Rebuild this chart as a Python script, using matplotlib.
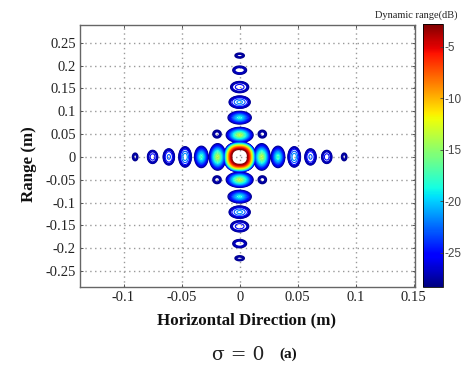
import matplotlib
matplotlib.use("Agg")
import matplotlib.pyplot as plt
import numpy as np

# lobes: centre x, centre y, half width, half height, peak dB
h_lobe_x = [-0.090, -0.075, -0.061, -0.047, -0.033, -0.019, 0.019, 0.033, 0.047, 0.061, 0.075, 0.090]
h_lobe_wx = [0.0024, 0.0043, 0.0047, 0.0052, 0.0060, 0.0073, 0.0073, 0.0060, 0.0052, 0.0047, 0.0043, 0.0024]
h_lobe_wy = [0.0088, 0.0142, 0.0175, 0.0220, 0.0240, 0.0296, 0.0296, 0.0240, 0.0220, 0.0175, 0.0142, 0.0088]
h_lobe_peak = [-27.0, -24.0, -22.5, -20.5, -17.0, -13.0, -13.0, -17.0, -20.5, -22.5, -24.0, -27.0]

v_lobe_y = [0.222, 0.190, 0.153, 0.120, 0.086, 0.048, -0.050, -0.087, -0.121, -0.152, -0.190, -0.222]
v_lobe_wx = [0.0043, 0.0060, 0.0078, 0.0090, 0.0103, 0.0118, 0.0118, 0.0103, 0.0090, 0.0078, 0.0060, 0.0043]
v_lobe_wy = [0.0055, 0.0088, 0.0120, 0.0130, 0.0143, 0.0170, 0.0170, 0.0143, 0.0130, 0.0120, 0.0088, 0.0055]
v_lobe_peak = [-27.0, -25.5, -24.0, -21.0, -18.0, -13.0, -13.0, -18.0, -21.0, -24.0, -25.5, -27.0]

corner_x = [-0.0195, 0.0195, -0.0195, 0.0195]
corner_y = [0.050, 0.050, -0.050, -0.050]

x_ticks = [-0.1, -0.05, 0, 0.05, 0.1, 0.15]
x_labels = ["-0.1", "-0.05", "0", "0.05", "0.1", "0.15"]
y_ticks = [0.25, 0.2, 0.15, 0.1, 0.05, 0, -0.05, -0.1, -0.15, -0.2, -0.25]
y_labels = ["0.25", "0.2", "0.15", "0.1", "0.05", "0", "-0.05", "-0.1", "-0.15", "-0.2", "-0.25"]
cb_ticks = [-5, -10, -15, -20, -25]
cb_labels = ["-5", "-10", "-15", "-20", "-25"]
strong_levels = [-28.0, -27.2, -26.4, -25.6, -24.8, -24.0, -23.2, -22.4, -21.6, -20.8, -20.0, -18.8,
                 -17.6, -16.4, -15.2, -14.0, -12.8, -11.6, -10.4, -9.2, -8.0, -7.0, -6.0, -5.0, -4.0, -3.0]
weak_levels = [-28.0, -27.5, -27.0, -25.0, -23.0, -21.5]
db_min, db_max = -28.3, -2.8

W, H = 474, 377
SERIF = "Liberation Serif"

xs = np.linspace(-0.1375, 0.151, 1400)
ys = np.linspace(-0.285, 0.289, 2000)
X, Y = np.meshgrid(xs, ys)


def add_lobe(field, cx, cy, wx, wy, peak, power=2.0, square=2.0):
    r = (np.abs((X - cx) / wx) ** square + np.abs((Y - cy) / wy) ** square) ** (1 / square)
    return np.maximum(field, peak - (peak - db_min) * r ** power)


# strong lobes look filled, weak ones are only a dark ring with a thin one inside
Z_strong = np.full(X.shape, -60.0)
Z_weak = np.full(X.shape, -60.0)
for cx, wx, wy, pk in zip(h_lobe_x, h_lobe_wx, h_lobe_wy, h_lobe_peak):
    if pk > -20:
        Z_strong = add_lobe(Z_strong, cx, 0.0, wx, wy, pk, power=1.2)
    else:
        Z_weak = add_lobe(Z_weak, cx, 0.0, wx, wy, pk)
for cy, wx, wy, pk in zip(v_lobe_y, v_lobe_wx, v_lobe_wy, v_lobe_peak):
    if pk > -20:
        Z_strong = add_lobe(Z_strong, 0.0, cy, wx, wy, pk, power=1.2)
    else:
        Z_weak = add_lobe(Z_weak, 0.0, cy, wx, wy, pk)
for cx, cy in zip(corner_x, corner_y):
    Z_weak = add_lobe(Z_weak, cx, cy, 0.0038, 0.0090, -27.0)
# main lobe, the top is above the last contour so the hole stays white
Z_strong = add_lobe(Z_strong, 0.0, 0.0, 0.0135, 0.0325, 0.6, power=3.0, square=2.4)

fig = plt.figure(figsize=(W / 100, H / 100), dpi=100)
ax = fig.add_axes([80 / W, 1 - 287 / H, 335 / W, 262 / H])
ax.contour(X, Y, Z_strong, levels=strong_levels, cmap="jet", vmin=db_min, vmax=db_max, linewidths=0.9, zorder=3)
weak_widths = [1.4, 1.4, 1.4, 0.8, 0.8, 0.8]
ax.contour(X, Y, Z_weak, levels=weak_levels, cmap="jet", vmin=db_min, vmax=db_max, linewidths=weak_widths, zorder=3)

ax.set_xlim(-0.1375, 0.151)
ax.set_ylim(-0.285, 0.289)
ax.set_xticks(x_ticks)
ax.set_xticklabels(x_labels, fontfamily=SERIF, fontsize=10.5, color="#222222")
ax.set_yticks(y_ticks)
ax.set_yticklabels(y_labels, fontfamily=SERIF, fontsize=10.5, color="#222222")
ax.tick_params(direction="in", length=2.5, width=0.7, color="#555555", top=True, right=True, pad=3)
ax.grid(True, linestyle=(0, (1, 2.5)), linewidth=1.0, color="#999999", zorder=0)
ax.set_axisbelow(True)
for s in ax.spines.values():
    s.set_color("#666666")
    s.set_linewidth(1.0)

cax = fig.add_axes([423 / W, 1 - 287 / H, 20 / W, 263 / H])
sm = plt.cm.ScalarMappable(norm=plt.Normalize(db_min, db_max), cmap="jet")
cb = fig.colorbar(sm, cax=cax)
cb.set_ticks(cb_ticks)
cb.set_ticklabels(cb_labels, fontfamily="Liberation Sans", fontsize=8.5, color="#444444")
cb.ax.tick_params(direction="in", length=2.5, width=0.6, pad=1, color="#444444")
cb.outline.set_linewidth(0.6)

fig.text(416 / W, 1 - 15 / H, "Dynamic range(dB)", fontfamily=SERIF, fontsize=7.5, color="#222222", ha="center", va="center")
fig.text(247 / W, 1 - 320 / H, "Horizontal Direction (m)", fontfamily=SERIF, fontsize=12.2, fontweight="bold", ha="center", va="center", color="#111111")
fig.text(29 / W, 1 - 164 / H, "Range (m)", fontfamily=SERIF, fontsize=12.2, fontweight="bold", rotation=90, ha="center", va="center", color="#111111")
fig.text(238 / W, 1 - 355 / H, "\u03c3 = 0", fontfamily="DejaVu Serif", fontsize=13.5, ha="center", va="center", color="#222222")
fig.text(288 / W, 1 - 354 / H, "(a)", fontfamily=SERIF, fontsize=11, fontweight="bold", ha="center", va="center", color="#111111")

fig.savefig("out.png", dpi=100)
